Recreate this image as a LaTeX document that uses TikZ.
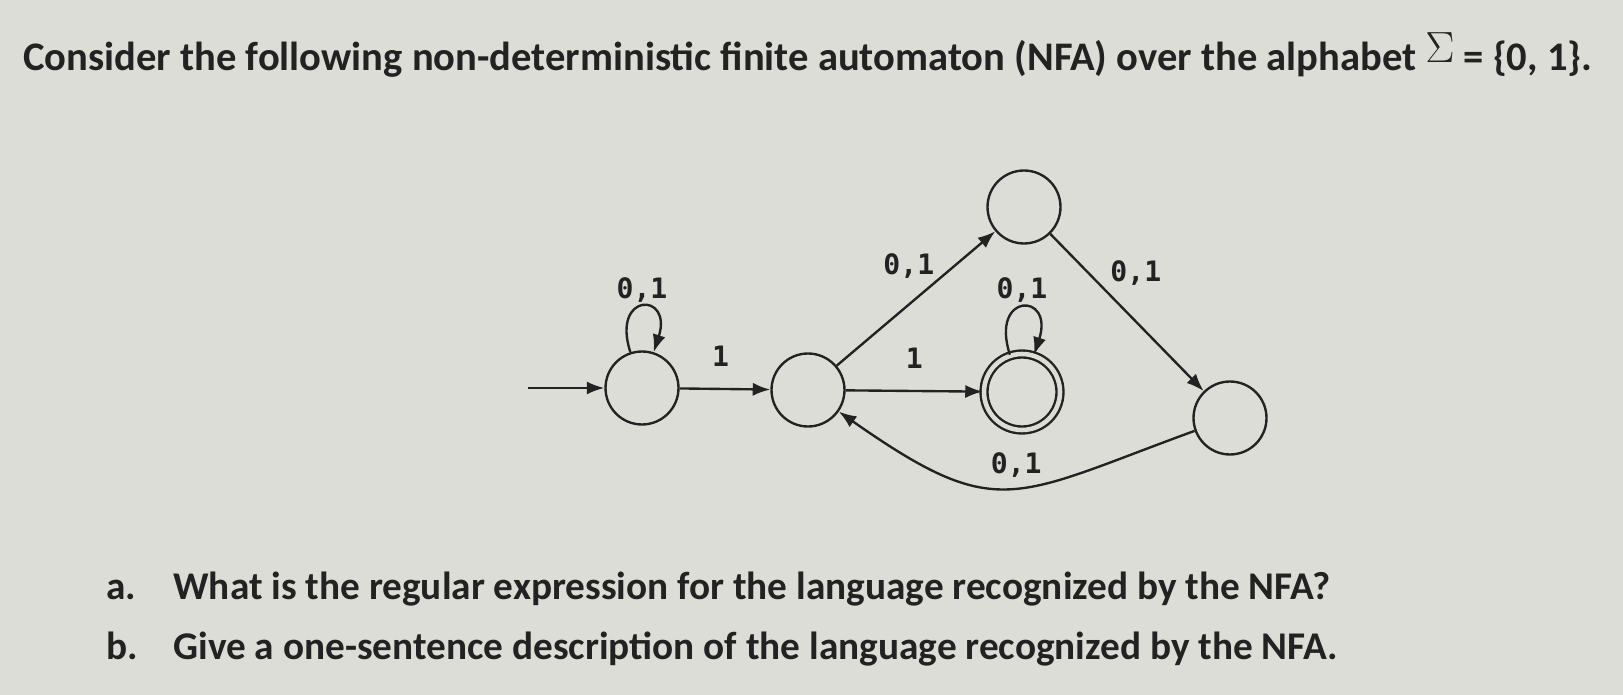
\documentclass[tikz,border=0pt]{standalone}
\usepackage{fontspec}
\setmainfont{Carlito}
\newfontfamily\labelfont{DejaVu Sans Mono}
\usetikzlibrary{arrows.meta,positioning}
\definecolor{screen}{RGB}{221,221,216}
\definecolor{ink}{RGB}{34,34,34}

\begin{document}
\begin{tikzpicture}[x=0.02cm,y=-0.02cm,
    >={Latex[length=10pt,width=7.5pt]},
    state/.style={circle,draw=ink,line width=1.35pt,minimum size=1.46cm,inner sep=0pt},
    accepting/.style={double=screen,double distance=2.6pt,minimum size=1.52cm},
    trans/.style={->,draw=ink,line width=1.35pt},
    lbl/.style={font=\labelfont\bfseries\fontsize{16}{16}\selectfont,text=ink,inner sep=0pt},
    txt/.style={font=\bfseries\fontsize{22.35}{26}\selectfont,text=ink,inner sep=0pt,anchor=base west}]
   % page
   \fill[screen] (0,0) rectangle (1623,695);
   \useasboundingbox (0,0) rectangle (1623,695);

   \node[txt,font=\bfseries\fontsize{23.1}{27}\selectfont] (title) at (23,71) {Consider the following non-deterministic finite automaton (NFA) over the alphabet \raisebox{0.22em}{\fontsize{25}{27}\selectfont$\Sigma$} = \{0, 1\}.};

   % states
   \node[state] (q0) at (642,388) {};
   \node[state] (q1) at (808,390) {};
   \node[state] (q2) at (1024,207) {};
   \node[state,accepting] (q3) at (1022,392) {};
   \node[state] (q4) at (1230,418) {};
   \coordinate (start) at (528,388);

   % transitions
   \draw[trans] (start) -- (q0);
   \draw[trans] (q0) to[out=108,in=72,looseness=7] node[lbl,above=2pt] (l00) {0,1} (q0);
   \draw[trans] (q0) -- node[lbl,above=12pt,pos=0.45] (l01) {1} (q1);
   \draw[trans] (q1) -- node[lbl,pos=0.63,above left=1pt] (l12) {0,1} (q2);
   \draw[trans] (q1) -- node[lbl,above=12pt] (l13) {1} (q3);
   \draw[trans] (q3) to[out=108,in=72,looseness=7] node[lbl,above=2pt] (l33) {0,1} (q3);
   \draw[trans] (q2) -- node[lbl,pos=0.36,above right=3pt] (l24) {0,1} (q4);
   \draw[trans] (q4) to[out=200,in=-35,looseness=1.4] node[lbl,pos=0.47,above=5pt] (l41) {0,1} (q1);

   % questions
   \node[txt] (qa) at (106,600) {a.};
   \node[txt] (qatext) at (173,600) {What is the regular expression for the language recognized by the NFA?};
   \node[txt] (qb) at (106,660) {b.};
   \node[txt] (qbtext) at (173,660) {Give a one-sentence description of the language recognized by the NFA.};
 \end{tikzpicture}
\end{document}
